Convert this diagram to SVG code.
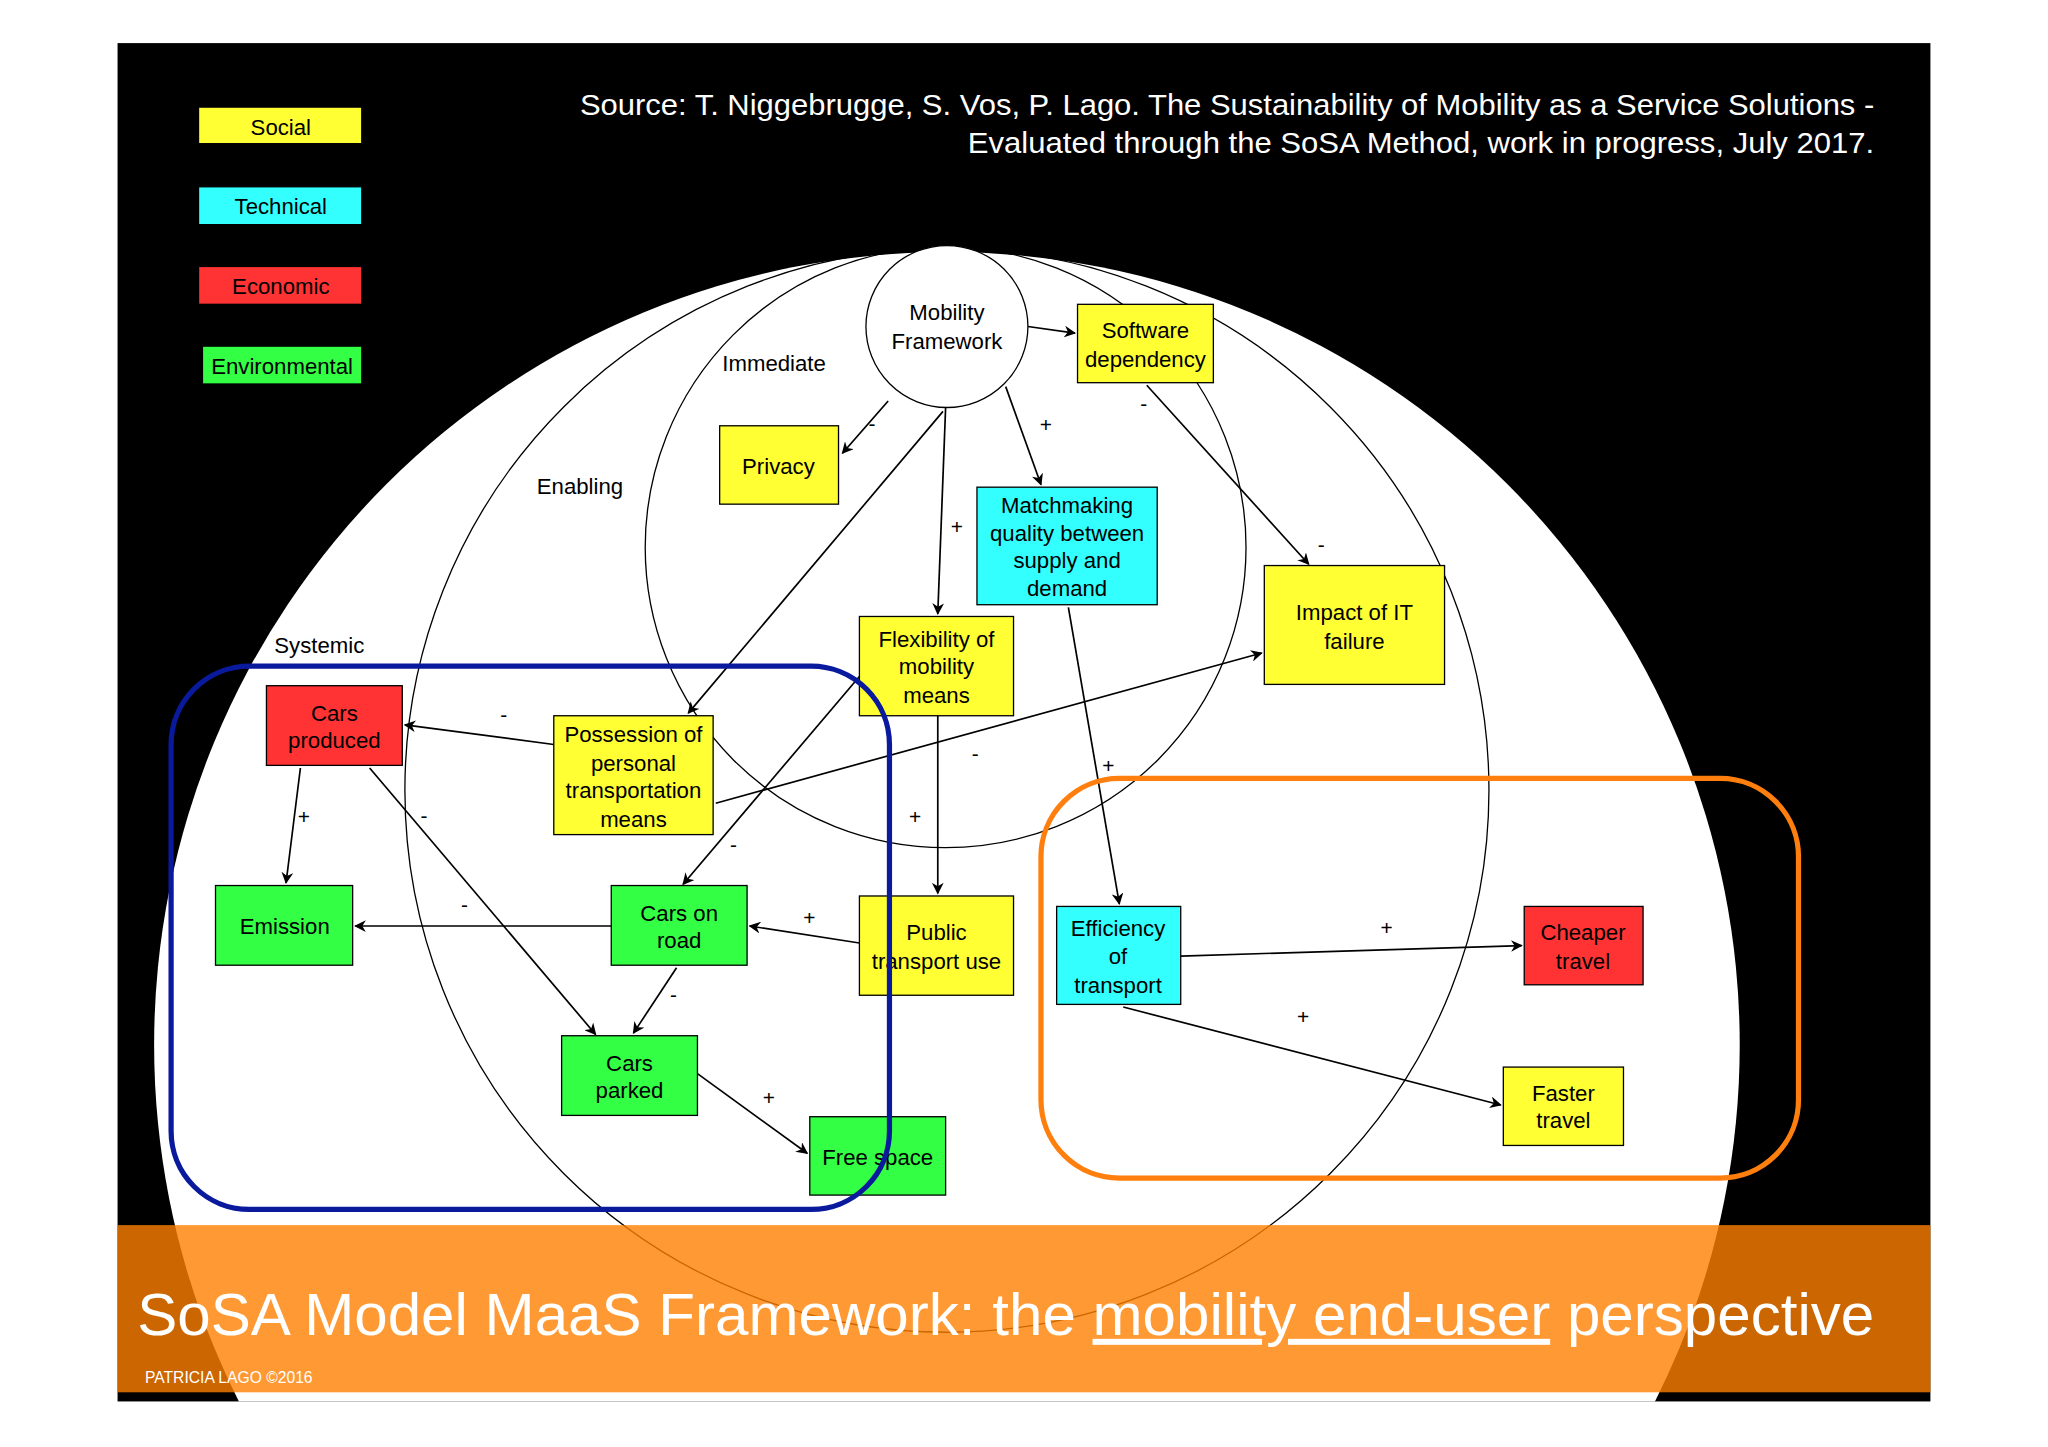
<svg xmlns="http://www.w3.org/2000/svg" width="2048" height="1447" viewBox="0 0 2048 1447">
<defs>
<marker id="ar" viewBox="0 0 10 10" refX="9" refY="5" markerWidth="9" markerHeight="9" orient="auto" markerUnits="userSpaceOnUse"><path d="M0,0 L10,5 L0,10 L3,5 z" fill="#000"/></marker>
<clipPath id="bg"><rect x="90" y="33" width="1388" height="1040"/></clipPath>
<style>
text{font-family:"Liberation Sans",Arial,sans-serif;}
.n{font-size:17px;text-anchor:middle;fill:#000}
.l{font-size:17px;fill:#000}
.y{fill:#ffff33;stroke:#000;stroke-width:1}
.c{fill:#33ffff;stroke:#000;stroke-width:1}
.r{fill:#ff3333;stroke:#000;stroke-width:1}
.g{fill:#33ff44;stroke:#000;stroke-width:1}
.e line{stroke:#000;stroke-width:1.3;marker-end:url(#ar)}
.s{font-size:16px;fill:#000}
.ring{fill:none;stroke:#000;stroke-width:1}
</style>
</defs>
<rect width="2048" height="1447" fill="#fff"/>
<g transform="scale(1.3061)">
<rect x="90" y="33" width="1388" height="1040" fill="#000"/>
<g clip-path="url(#bg)">
<circle cx="725" cy="800" r="607" fill="#fff"/>
<circle class="ring" cx="725" cy="605" r="415"/>
<circle class="ring" cx="724" cy="419" r="230"/>
</g>
<g id="legend">
<rect class="y" x="152" y="82" width="125" height="28"/><text class="n" x="215" y="103">Social</text>
<rect class="c" x="152" y="143" width="125" height="29"/><text class="n" x="215" y="164">Technical</text>
<rect class="r" x="152" y="204" width="125" height="29"/><text class="n" x="215" y="225">Economic</text>
<rect class="g" x="155" y="265" width="122" height="29"/><text class="n" x="216" y="286">Environmental</text>
</g>
<text x="444" y="88" font-size="22" fill="#fff" textLength="991" lengthAdjust="spacingAndGlyphs">Source: T. Niggebrugge, S. Vos, P. Lago. The Sustainability of Mobility as a Service Solutions -</text>
<text x="741" y="117" font-size="22" fill="#fff" textLength="694" lengthAdjust="spacingAndGlyphs">Evaluated through the SoSA Method, work in progress, July 2017.</text>
<text class="l" x="553" y="284">Immediate</text>
<text class="l" x="411" y="378">Enabling</text>
<text class="l" x="210" y="500">Systemic</text>
<g id="connectors" class="e">
<line x1="787" y1="250" x2="823" y2="255"/>
<line x1="680" y1="307" x2="645" y2="347"/>
<line x1="770" y1="296" x2="797" y2="371"/>
<line x1="724" y1="312" x2="718" y2="470"/>
<line x1="722" y1="315" x2="527" y2="546"/>
<line x1="878" y1="295" x2="1002" y2="432"/>
<line x1="548" y1="615" x2="966" y2="500"/>
<line x1="424" y1="570" x2="310" y2="555"/>
<line x1="818" y1="465" x2="857" y2="692"/>
<line x1="718" y1="548" x2="718" y2="684"/>
<line x1="658" y1="518" x2="523" y2="677"/>
<line x1="230" y1="588" x2="219" y2="676"/>
<line x1="283" y1="588" x2="456" y2="792"/>
<line x1="468" y1="709" x2="272" y2="709"/>
<line x1="658" y1="722" x2="574" y2="709"/>
<line x1="518" y1="741" x2="485" y2="791"/>
<line x1="534" y1="822" x2="618" y2="883"/>
<line x1="904" y1="732" x2="1165" y2="724"/>
<line x1="860" y1="771" x2="1149" y2="846"/>
<line x1="1098" y1="450" x2="1104" y2="458"/>
</g>
<g id="signs">
<text class="s" x="665" y="330">-</text><text class="s" x="796" y="331">+</text><text class="s" x="728" y="409">+</text>
<text class="s" x="873" y="315">-</text><text class="s" x="1009" y="423">-</text><text class="s" x="744" y="583">-</text>
<text class="s" x="383" y="553">-</text><text class="s" x="844" y="592">+</text><text class="s" x="696" y="631">+</text>
<text class="s" x="559" y="652">-</text><text class="s" x="228" y="631">+</text><text class="s" x="322" y="630">-</text>
<text class="s" x="353" y="698">-</text><text class="s" x="615" y="708">+</text><text class="s" x="513" y="767">-</text>
<text class="s" x="584" y="846">+</text><text class="s" x="1057" y="716">+</text><text class="s" x="993" y="784">+</text>
</g>
<g id="mobility"><circle cx="725" cy="250" r="62" fill="#fff" stroke="#000"/><text class="n" x="725" y="245">Mobility</text><text class="n" x="725" y="267">Framework</text></g>
<g id="software"><rect class="y" x="825" y="233" width="104" height="60"/><text class="n" x="877" y="259">Software</text><text class="n" x="877" y="281">dependency</text></g>
<g id="privacy"><rect class="y" x="551" y="326" width="91" height="60"/><text class="n" x="596" y="363">Privacy</text></g>
<g id="matchmaking"><rect class="c" x="748" y="373" width="138" height="90"/><text class="n" x="817" y="393">Matchmaking</text><text class="n" x="817" y="414">quality between</text><text class="n" x="817" y="435">supply and</text><text class="n" x="817" y="456">demand</text></g>
<g id="impact"><rect class="y" x="968" y="433" width="138" height="91"/><text class="n" x="1037" y="475">Impact of IT</text><text class="n" x="1037" y="497">failure</text></g>
<g id="flexibility"><rect class="y" x="658" y="472" width="118" height="76"/><text class="n" x="717" y="495">Flexibility of</text><text class="n" x="717" y="516">mobility</text><text class="n" x="717" y="538">means</text></g>
<g id="carsproduced"><rect class="r" x="204" y="525" width="104" height="61"/><text class="n" x="256" y="552">Cars</text><text class="n" x="256" y="573">produced</text></g>
<g id="possession"><rect class="y" x="424" y="548" width="122" height="91"/><text class="n" x="485" y="568">Possession of</text><text class="n" x="485" y="590">personal</text><text class="n" x="485" y="611">transportation</text><text class="n" x="485" y="633">means</text></g>
<g id="emission"><rect class="g" x="165" y="678" width="105" height="61"/><text class="n" x="218" y="715">Emission</text></g>
<g id="carsonroad"><rect class="g" x="468" y="678" width="104" height="61"/><text class="n" x="520" y="705">Cars on</text><text class="n" x="520" y="726">road</text></g>
<g id="public"><rect class="y" x="658" y="686" width="118" height="76"/><text class="n" x="717" y="720">Public</text><text class="n" x="717" y="742">transport use</text></g>
<g id="efficiency"><rect class="c" x="809" y="694" width="95" height="75"/><text class="n" x="856" y="717">Efficiency</text><text class="n" x="856" y="738">of</text><text class="n" x="856" y="760">transport</text></g>
<g id="cheaper"><rect class="r" x="1167" y="694" width="91" height="60"/><text class="n" x="1212" y="720">Cheaper</text><text class="n" x="1212" y="742">travel</text></g>
<g id="faster"><rect class="y" x="1151" y="817" width="92" height="60"/><text class="n" x="1197" y="843">Faster</text><text class="n" x="1197" y="864">travel</text></g>
<g id="carsparked"><rect class="g" x="430" y="793" width="104" height="61"/><text class="n" x="482" y="820">Cars</text><text class="n" x="482" y="841">parked</text></g>
<g id="freespace"><rect class="g" x="620" y="855" width="104" height="60"/><text class="n" x="672" y="892">Free space</text></g>
<rect x="131" y="510" width="550" height="416" rx="60" fill="none" stroke="#0a1a9c" stroke-width="4"/>
<rect x="797" y="596" width="580" height="306" rx="60" fill="none" stroke="#ff7f0e" stroke-width="4"/>
<rect x="90" y="938" width="1388" height="128" fill="#ff8000" fill-opacity="0.8"/>
<text x="105" y="1022" font-size="46" fill="#fff" textLength="1330" lengthAdjust="spacingAndGlyphs">SoSA Model MaaS Framework: the <tspan text-decoration="underline">mobility end-user</tspan> perspective</text>
<text x="111" y="1059" font-size="12" fill="#fff">PATRICIA LAGO ©2016</text>
</g>
</svg>
